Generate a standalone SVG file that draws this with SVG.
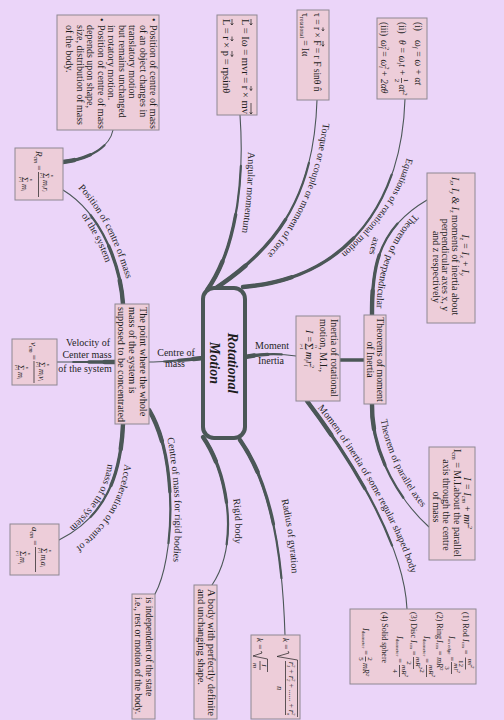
<svg xmlns="http://www.w3.org/2000/svg" width="504" height="720" viewBox="0 0 504 720">
<style>
.t{font-family:'Liberation Serif','DejaVu Serif',serif;fill:#1c1c1c}
.lb{font-family:'Liberation Serif','DejaVu Serif',serif;font-size:10px;fill:#262626}
.bx{fill:#EDCDD9;stroke:#8E8892;stroke-width:1}
.cn{fill:none;stroke:#4B5757;stroke-linecap:round}
.w1{stroke-width:1.1}
.w2{stroke-width:2.2;stroke-dasharray:72 1000}
.w3{stroke-width:3.3;stroke-dasharray:45 1000}
.w4{stroke-width:4.4;stroke-dasharray:18 1000}
.fb{stroke:#1c1c1c;stroke-width:0.7;fill:none}
</style>
<defs>
<path id="c-ang" pathLength="100" d="M290,297 C260,275 200,258 115,264"/>
<path id="c-tor" pathLength="100" d="M290,291 C250,230 200,190 100,187"/>
<path id="c-eq" pathLength="100" d="M287,261 C278,150 195,102 99,99"/>
<path id="c-mom" pathLength="100" d="M357,259 Q352,233 356,208"/>
<path id="c-perp" pathLength="100" d="M315,132 C270,132 230,128 200,77"/>
<path id="c-par" pathLength="100" d="M404,132 C452,133 500,105 527,75"/>
<path id="c-reg" pathLength="100" d="M401,197 C450,160 540,100 609,97"/>
<path id="c-com" pathLength="100" d="M358,301 C360,320 362,340 362,355"/>
<path id="c-vel" pathLength="100" d="M362,389 L362,447"/>
<path id="c-pos" pathLength="100" d="M304,381 C270,383 215,400 190,441"/>
<path id="c-rcm" pathLength="100" d="M162,441 C158,410 145,394 130,391"/>
<path id="c-acc" pathLength="100" d="M424,381 C470,383 515,395 540,445"/>
<path id="c-cmr" pathLength="100" d="M410,355 C460,325 560,330 594,349"/>
<path id="c-rig" pathLength="100" d="M437,301 C475,275 545,265 585,292"/>
<path id="c-rad" pathLength="100" d="M440,264 C480,236 540,222 635,219"/>
<path id="lp-ang" d="M150,256 Q195,255 237,263"/>
<path id="lp-tor" d="M122,181 Q205,190 258,240"/>
<path id="lp-eq" d="M157,97 Q205,108 255,164"/>
<path id="lp-perp1" d="M213,89 Q255,130 316,127"/>
<path id="lp-perp2" d="M236,130 Q250,135 268,137"/>
<path id="lp-par" d="M404,125 C440,123 480,108 522,70"/>
<path id="lp-reg" d="M407,187 C452,150 535,101 582,91"/>
<path id="lp-pos1" d="M186,428 Q220,394 285,376"/>
<path id="lp-pos2" d="M214,424 Q240,405 270,396"/>
<path id="lp-acc1" d="M462,379 C492,382 522,394 549,430"/>
<path id="lp-acc2" d="M462,396 Q500,400 532,440"/>
<path id="lp-cmr" d="M437,337 Q500,325 562,331"/>
<path id="lp-rig" d="M497,271 Q522,267 548,270"/>
<path id="lp-rad" d="M498,223 Q535,214 578,212"/>
</defs>
<rect width="504" height="720" fill="#EBD5F9"/>

<g id="connectors">
 <g transform="translate(504 0) rotate(90)">
  <g class="cn">
   <use href="#c-ang" class="w1"/><use href="#c-ang" class="w2"/><use href="#c-ang" class="w3"/><use href="#c-ang" class="w4"/>
   <use href="#c-tor" class="w1"/><use href="#c-tor" class="w2"/><use href="#c-tor" class="w3"/><use href="#c-tor" class="w4"/>
   <use href="#c-eq" class="w1"/><use href="#c-eq" class="w2"/><use href="#c-eq" class="w3"/><use href="#c-eq" class="w4"/>
   <use href="#c-mom" class="w1"/><use href="#c-mom" class="w2"/><use href="#c-mom" class="w3"/><use href="#c-mom" class="w4"/>
   <path d="M360,164 L360,140" stroke-width="3.4"/>
   <use href="#c-perp" class="w1"/><use href="#c-perp" class="w2"/><use href="#c-perp" class="w3"/><use href="#c-perp" class="w4"/>
   <use href="#c-par" class="w1"/><use href="#c-par" class="w2"/><use href="#c-par" class="w3"/><use href="#c-par" class="w4"/>
   <use href="#c-reg" class="w1"/><use href="#c-reg" class="w2"/><use href="#c-reg" class="w3"/><use href="#c-reg" class="w4"/>
   <use href="#c-com" class="w1"/><use href="#c-com" class="w2"/><use href="#c-com" class="w3"/><use href="#c-com" class="w4"/>
   <use href="#c-vel" class="w1"/><use href="#c-vel" class="w2"/><use href="#c-vel" class="w3"/><use href="#c-vel" class="w4"/>
   <use href="#c-pos" class="w1"/><use href="#c-pos" class="w2"/><use href="#c-pos" class="w3"/><use href="#c-pos" class="w4"/>
   <use href="#c-rcm" class="w1"/><use href="#c-rcm" class="w2"/><use href="#c-rcm" class="w3"/><use href="#c-rcm" class="w4"/>
   <use href="#c-acc" class="w1"/><use href="#c-acc" class="w2"/><use href="#c-acc" class="w3"/><use href="#c-acc" class="w4"/>
   <use href="#c-cmr" class="w1"/><use href="#c-cmr" class="w2"/><use href="#c-cmr" class="w3"/><use href="#c-cmr" class="w4"/>
   <use href="#c-rig" class="w1"/><use href="#c-rig" class="w2"/><use href="#c-rig" class="w3"/><use href="#c-rig" class="w4"/>
   <use href="#c-rad" class="w1"/><use href="#c-rad" class="w2"/><use href="#c-rad" class="w3"/><use href="#c-rad" class="w4"/>
  </g>
  <g class="lb">
   <text><textPath href="#lp-ang" startOffset="2">Angular momentum</textPath></text>
   <text font-size="9.8"><textPath href="#lp-tor" startOffset="1">Torque or couple or moment of force</textPath></text>
   <text font-size="9.6"><textPath href="#lp-eq" startOffset="1">Equations of rotational motion</textPath></text>
   <text><textPath href="#lp-perp1" startOffset="1">Theorem of perpendicular</textPath></text>
   <text><textPath href="#lp-perp2" startOffset="1">axes</textPath></text>
   <text font-size="9.8"><textPath href="#lp-par" startOffset="16">Theorem of parallel axes</textPath></text>
   <text><textPath href="#lp-reg" startOffset="1">Moment of inertia of some regular shaped body</textPath></text>
   <text><textPath href="#lp-pos1" startOffset="3">Position of centre of mass</textPath></text>
   <text><textPath href="#lp-pos2" startOffset="2">of the system</textPath></text>
   <text><textPath href="#lp-acc1" startOffset="2">Acceleration of centre of</textPath></text>
   <text><textPath href="#lp-acc2" startOffset="2">mass of the system</textPath></text>
   <text><textPath href="#lp-cmr" startOffset="1">Centre of mass for rigid bodies</textPath></text>
   <text><textPath href="#lp-rig" startOffset="2">Rigid body</textPath></text>
   <text><textPath href="#lp-rad" startOffset="2">Radius of gyration</textPath></text>
  </g>
 </g>
 <g class="lb" text-anchor="middle">
  <text x="272" y="349">Moment</text>
  <text x="271" y="364">Inertia</text>
  <text x="176" y="356">Centre of</text>
  <text x="175" y="367">mass</text>
  <text x="88" y="346">Velocity of</text>
  <text x="87" y="358">Center mass</text>
  <text x="85" y="372">of the system</text>
 </g>
</g>

<g id="nodes" transform="translate(504 0) rotate(90)">
 <g id="n-center">
  <rect x="288" y="259" width="150" height="42" rx="11" fill="#EBD5F9" stroke="#4B5757" stroke-width="4"/>
  <text class="t" font-size="14" font-weight="bold" font-style="italic" text-anchor="middle"><tspan x="363" y="276">Rotational</tspan><tspan x="363" y="294">Motion</tspan></text>
 </g>

 <g id="n-com-desc">
  <rect class="bx" x="15" y="345" width="115" height="102"/>
  <text class="t" font-size="10">
   <tspan x="18" y="354">•</tspan><tspan x="25" y="354">Position of centre of mass</tspan>
   <tspan x="25" y="364.5">of an object changes in</tspan>
   <tspan x="25" y="375">translatory motion</tspan>
   <tspan x="25" y="385.5">but remains unchanged</tspan>
   <tspan x="25" y="396">in rotatory motion.</tspan>
   <tspan x="18" y="406.5">•</tspan><tspan x="25" y="406.5">Position of centre of mass</tspan>
   <tspan x="25" y="417">depends upon shape,</tspan>
   <tspan x="25" y="427.5">size, distribution of mass</tspan>
   <tspan x="25" y="438">of the body.</tspan>
  </text>
 </g>

 <g id="n-rcm">
  <rect class="bx" x="148" y="441" width="52" height="48"/>
  <text class="t" font-size="9" font-style="italic" x="151" y="468">R<tspan font-size="5.5" dy="2">cm</tspan><tspan dy="-2" font-style="normal"> =</tspan></text>
  <text class="t" font-size="9" x="173" y="461">Σ</text>
  <text class="t" font-size="4" x="175.7" y="453" text-anchor="middle">n</text>
  <text class="t" font-size="3.5" x="175.7" y="464" text-anchor="middle">i=1</text>
  <text class="t" font-size="8" font-style="italic" x="180" y="461">m<tspan font-size="5" dy="1.5">i</tspan><tspan dy="-1.5">r</tspan><tspan font-size="5" dy="1.5">i</tspan></text>
  <line class="fb" x1="172" y1="465.5" x2="197" y2="465.5"/>
  <text class="t" font-size="9" x="177" y="482">Σ</text>
  <text class="t" font-size="4" x="179.7" y="474" text-anchor="middle">n</text>
  <text class="t" font-size="3.5" x="179.7" y="485.5" text-anchor="middle">i=1</text>
  <text class="t" font-size="8" font-style="italic" x="184" y="482">m<tspan font-size="5" dy="1.5">i</tspan></text>
 </g>

 <g id="n-vcm">
  <rect class="bx" x="339" y="447" width="46" height="45"/>
  <text class="t" font-size="9" font-style="italic" x="342" y="473.5">v<tspan font-size="5.5" dy="2">cm</tspan><tspan dy="-2" font-style="normal"> =</tspan></text>
  <text class="t" font-size="9" x="362" y="465">Σ</text>
  <text class="t" font-size="4" x="364.7" y="457" text-anchor="middle">n</text>
  <text class="t" font-size="3.5" x="364.7" y="468.5" text-anchor="middle">i=1</text>
  <text class="t" font-size="8" font-style="italic" x="369" y="465">m<tspan font-size="5" dy="1.5">i</tspan><tspan dy="-1.5">v</tspan><tspan font-size="5" dy="1.5">i</tspan></text>
  <line class="fb" x1="361" y1="470" x2="383" y2="470"/>
  <text class="t" font-size="9" x="365" y="486">Σ</text>
  <text class="t" font-size="4" x="367.7" y="478" text-anchor="middle">n</text>
  <text class="t" font-size="3.5" x="367.7" y="489.5" text-anchor="middle">i=1</text>
  <text class="t" font-size="8" font-style="italic" x="372" y="486">m<tspan font-size="5" dy="1.5">i</tspan></text>
 </g>

 <g id="n-acm">
  <rect class="bx" x="524" y="445" width="51" height="49"/>
  <text class="t" font-size="9" font-style="italic" x="527" y="472">a<tspan font-size="5.5" dy="2">cm</tspan><tspan dy="-2" font-style="normal"> =</tspan></text>
  <text class="t" font-size="9" x="548" y="463">Σ</text>
  <text class="t" font-size="4" x="550.7" y="455" text-anchor="middle">n</text>
  <text class="t" font-size="3.5" x="550.7" y="466.5" text-anchor="middle">i=1</text>
  <text class="t" font-size="8" font-style="italic" x="554.5" y="463">m<tspan font-size="5" dy="1.5">i</tspan><tspan dy="-1.5">a</tspan><tspan font-size="5" dy="1.5">i</tspan></text>
  <line class="fb" x1="547" y1="468.5" x2="572" y2="468.5"/>
  <text class="t" font-size="9" x="551" y="484.5">Σ</text>
  <text class="t" font-size="4" x="553.7" y="476.5" text-anchor="middle">n</text>
  <text class="t" font-size="3.5" x="553.7" y="488" text-anchor="middle">i=1</text>
  <text class="t" font-size="8" font-style="italic" x="557" y="484.5">m<tspan font-size="5" dy="1.5">i</tspan></text>
 </g>

 <g id="n-point">
  <rect class="bx" x="304" y="355" width="120" height="34"/>
  <text class="t" font-size="10.2">
   <tspan x="307" y="364.5">The point where the whole</tspan>
   <tspan x="307" y="375.5">mass of the system is</tspan>
   <tspan x="307" y="386.5">supposed to be concentrated</tspan>
  </text>
 </g>

 <g id="n-indep">
  <rect class="bx" x="594" y="349" width="125" height="23"/>
  <text class="t" font-size="9.5">
   <tspan x="597" y="358.5">is independent of the state</tspan>
   <tspan x="597" y="369.5">i.e., rest or motion of the body.</tspan>
  </text>
 </g>

 <g id="n-angular">
  <rect class="bx" x="15" y="247" width="100" height="40"/>
  <text class="t" font-size="10.5" x="19" y="262">L = Iω = mvr = r × mv</text>
  <text class="t" font-size="10.5" x="19" y="281">L = r × p = rpsinθ</text>
  <path class="fb" d="M19,253h6m-1.8,-1.3l1.8,1.3l-1.8,1.3 M86,253h4.5m-1.8,-1.3l1.8,1.3l-1.8,1.3 M103,253h11m-1.8,-1.3l1.8,1.3l-1.8,1.3 M19,272h6m-1.8,-1.3l1.8,1.3l-1.8,1.3 M36.5,272h4.5m-1.8,-1.3l1.8,1.3l-1.8,1.3 M51,272h5.5m-1.8,-1.3l1.8,1.3l-1.8,1.3"/>
 </g>

 <g id="n-torque">
  <rect class="bx" x="10" y="175" width="90" height="32"/>
  <text class="t" font-size="9.5" x="13" y="190">τ = r × F = r F sinθ n&#770;</text>
  <text class="t" font-size="9.5" x="13" y="202">τ<tspan font-size="5.5" dy="2">rotational</tspan><tspan dy="-2"> = Iα</tspan></text>
  <path class="fb" d="M27.4,181h3.5m-1.6,-1.2l1.6,1.2l-1.6,1.2 M41,181h5.2m-1.6,-1.2l1.6,1.2l-1.6,1.2"/>
 </g>

 <g id="n-equations">
  <rect class="bx" x="18" y="77" width="81" height="50"/>
  <text class="t" font-size="9.5">
   <tspan x="22" y="89">(i)</tspan>
   <tspan x="40" y="89" font-style="italic">ω</tspan><tspan font-size="6" dy="2" font-style="italic">f</tspan><tspan dy="-2" font-style="italic"> = ω + αt</tspan>
  </text>
  <text class="t" font-size="9.5">
   <tspan x="22" y="105">(ii)</tspan>
   <tspan x="40" y="105" font-style="italic">θ = ω</tspan><tspan font-size="6" dy="2" font-style="italic">i</tspan><tspan dy="-2" font-style="italic">t + </tspan>
  </text>
  <text class="t" font-size="7" text-anchor="middle" x="80.5" y="100.5">1</text>
  <line class="fb" x1="78" y1="102.5" x2="83" y2="102.5"/>
  <text class="t" font-size="7" text-anchor="middle" x="80.5" y="109.5">2</text>
  <text class="t" font-size="9.5" font-style="italic" x="84.5" y="105">αt<tspan font-size="6" dy="-4">2</tspan></text>
  <text class="t" font-size="9.5">
   <tspan x="22" y="123">(iii)</tspan>
   <tspan x="40" y="123" font-style="italic">ω</tspan><tspan font-size="6" dy="-4" font-style="italic">2</tspan><tspan font-size="6" dx="-3" dy="6" font-style="italic">f</tspan><tspan dy="-2" font-style="italic"> = ω</tspan><tspan font-size="6" dy="-4" font-style="italic">2</tspan><tspan font-size="6" dx="-3" dy="6" font-style="italic">i</tspan><tspan dy="-2" font-style="italic"> + 2αθ</tspan>
  </text>
 </g>

 <g id="n-perp">
  <rect class="bx" x="173" y="29" width="150" height="48"/>
  <text class="t" font-size="10" font-style="italic" text-anchor="middle" x="255" y="42">I<tspan font-size="6" dy="2">z</tspan><tspan dy="-2"> = I</tspan><tspan font-size="6" dy="2">x</tspan><tspan dy="-2"> + I</tspan><tspan font-size="6" dy="2">y</tspan></text>
  <text class="t" font-size="10" x="177" y="52"><tspan font-style="italic">I</tspan><tspan font-size="6" dy="2" font-style="italic">x</tspan><tspan dy="-2" font-style="italic">, I</tspan><tspan font-size="6" dy="2" font-style="italic">y</tspan><tspan dy="-2" font-style="italic"> &amp; I</tspan><tspan font-size="6" dy="2" font-style="italic">z</tspan><tspan dy="-2"> moments of inertia about</tspan></text>
  <text class="t" font-size="10" text-anchor="middle" x="265" y="62">perpendicular axes  x, y</text>
  <text class="t" font-size="10" text-anchor="middle" x="267" y="71.5">and  z respectively</text>
 </g>

 <g id="n-theorems">
  <rect class="bx" x="315" y="118" width="89" height="22"/>
  <text class="t" font-size="9.8" text-anchor="middle"><tspan x="359.5" y="127.5">Theorems of moment</tspan><tspan x="359.5" y="137.5">of Inertia</tspan></text>
 </g>

 <g id="n-inertia">
  <rect class="bx" x="316" y="164" width="85" height="44"/>
  <text class="t" font-size="10"><tspan x="319" y="173">Inertia of rotational</tspan><tspan x="319" y="184">motion, M.I.,</tspan></text>
  <text class="t" font-size="10" font-style="italic" x="330" y="198">I =</text>
  <text class="t" font-size="12" x="343" y="199">Σ</text>
  <text class="t" font-size="5" x="346.6" y="189" text-anchor="middle">n</text>
  <text class="t" font-size="4.5" x="346.6" y="204" text-anchor="middle">i=1</text>
  <text class="t" font-size="10" font-style="italic" x="352" y="198">m<tspan font-size="6" dy="2">i</tspan><tspan dy="-2">r</tspan><tspan font-size="6" dy="-4">2</tspan><tspan font-size="6" dx="-3" dy="6">i</tspan></text>
 </g>

 <g id="n-parallel">
  <rect class="bx" x="447" y="29" width="113" height="46"/>
  <text class="t" font-size="10" font-style="italic" text-anchor="middle" x="503" y="40">I = I<tspan font-size="6" dy="2">cm</tspan><tspan dy="-2"> + mr</tspan><tspan font-size="6" dy="-4">2</tspan></text>
  <text class="t" font-size="10" text-anchor="middle" x="503" y="50.5">I<tspan font-size="6" dy="2">cm</tspan><tspan dy="-2"> = M.I.about the parallel</tspan></text>
  <text class="t" font-size="10" text-anchor="middle" x="505" y="61">axis through the centre</text>
  <text class="t" font-size="10" text-anchor="middle" x="507" y="71">of mass</text>
 </g>

 <g id="n-regular">
  <rect class="bx" x="609" y="28" width="75" height="126"/>
  <text class="t" font-size="8"><tspan x="612" y="41">(1) Rod</tspan><tspan x="639" y="41" font-style="italic">I</tspan><tspan font-size="5" dy="1.5">cm</tspan><tspan dy="-1.5"> =</tspan></text>
  <text class="t" font-size="7" font-style="italic" text-anchor="middle" x="663.5" y="36.5">ml<tspan font-size="5" dy="-3">2</tspan></text>
  <line class="fb" x1="657.5" y1="38.5" x2="669.5" y2="38.5"/>
  <text class="t" font-size="7" text-anchor="middle" x="663.5" y="45">12</text>

  <text class="t" font-size="8"><tspan x="636" y="55" font-style="italic">I</tspan><tspan font-size="5" dy="1.5">on edge</tspan><tspan dy="-1.5"> =</tspan></text>
  <text class="t" font-size="7" font-style="italic" text-anchor="middle" x="668" y="50.5">ml<tspan font-size="5" dy="-3">2</tspan></text>
  <line class="fb" x1="662" y1="52.5" x2="674" y2="52.5"/>
  <text class="t" font-size="7" text-anchor="middle" x="668" y="59">3</text>

  <text class="t" font-size="8"><tspan x="612" y="67">(2) Ring</tspan><tspan x="640" y="67" font-style="italic">I</tspan><tspan font-size="5" dy="1.5">cm</tspan><tspan dy="-1.5"> = </tspan><tspan font-style="italic">mR</tspan><tspan font-size="5" dy="-3">2</tspan></text>

  <text class="t" font-size="8"><tspan x="636" y="80" font-style="italic">I</tspan><tspan font-size="5" dy="1.5">diameter</tspan><tspan dy="-1.5"> =</tspan></text>
  <text class="t" font-size="7" font-style="italic" text-anchor="middle" x="671" y="75.5">mR<tspan font-size="5" dy="-3">2</tspan></text>
  <line class="fb" x1="665" y1="77.5" x2="677" y2="77.5"/>
  <text class="t" font-size="7" text-anchor="middle" x="671" y="84">2</text>

  <text class="t" font-size="8"><tspan x="612" y="93">(3) Disc</tspan><tspan x="640" y="93" font-style="italic">I</tspan><tspan font-size="5" dy="1.5">cm</tspan><tspan dy="-1.5"> =</tspan></text>
  <text class="t" font-size="7" font-style="italic" text-anchor="middle" x="663" y="88.5">mR<tspan font-size="5" dy="-3">2</tspan></text>
  <line class="fb" x1="657" y1="90.5" x2="669" y2="90.5"/>
  <text class="t" font-size="7" text-anchor="middle" x="663" y="97">2</text>

  <text class="t" font-size="8"><tspan x="636" y="107" font-style="italic">I</tspan><tspan font-size="5" dy="1.5">diameter</tspan><tspan dy="-1.5"> =</tspan></text>
  <text class="t" font-size="7" font-style="italic" text-anchor="middle" x="671" y="102.5">mR<tspan font-size="5" dy="-3">2</tspan></text>
  <line class="fb" x1="665" y1="104.5" x2="677" y2="104.5"/>
  <text class="t" font-size="7" text-anchor="middle" x="671" y="111">4</text>

  <text class="t" font-size="8" x="612" y="122">(4) Solid sphere</text>

  <text class="t" font-size="8"><tspan x="628" y="141" font-style="italic">I</tspan><tspan font-size="5" dy="1.5">diameter</tspan><tspan dy="-1.5"> =</tspan></text>
  <text class="t" font-size="7" text-anchor="middle" x="659" y="136.5">2</text>
  <line class="fb" x1="656.5" y1="138.5" x2="661.5" y2="138.5"/>
  <text class="t" font-size="7" text-anchor="middle" x="659" y="145">5</text>
  <text class="t" font-size="8" font-style="italic" x="663" y="141">mR<tspan font-size="5" dy="-3">2</tspan></text>
 </g>

 <g id="n-rigid">
  <rect class="bx" x="585" y="287" width="134" height="23"/>
  <text class="t" font-size="10.5"><tspan x="589" y="296" textLength="127" lengthAdjust="spacing">A body with perfectly definite</tspan><tspan x="589" y="306.5">and unchanging shape.</tspan></text>
 </g>

 <g id="n-gyration">
  <rect class="bx" x="635" y="204" width="84" height="49"/>
  <text class="t" font-size="9" font-style="italic" x="638" y="221">k <tspan font-style="normal">=</tspan></text>
  <path class="fb" d="M651,216 L653,215 L656.5,227 L660,206.5 L717,206.5"/>
  <text class="t" font-size="7.5" font-style="italic" x="662" y="215.5">r<tspan font-size="4.5" dy="-3">2</tspan><tspan font-size="4.5" dx="-2.2" dy="4.5">1</tspan><tspan dy="-1.5"> + r</tspan><tspan font-size="4.5" dy="-3">2</tspan><tspan font-size="4.5" dx="-2.2" dy="4.5">2</tspan><tspan dy="-1.5"> + ...... + r</tspan><tspan font-size="4.5" dy="-3">2</tspan><tspan font-size="4.5" dx="-2.2" dy="4.5">n</tspan></text>
  <line class="fb" x1="661" y1="218.5" x2="715" y2="218.5"/>
  <text class="t" font-size="7.5" font-style="italic" text-anchor="middle" x="688" y="227">n</text>
  <text class="t" font-size="9" font-style="italic" x="638" y="247.5">k <tspan font-style="normal">=</tspan></text>
  <path class="fb" d="M651,243 L653,242 L656,251 L659,236.5 L672,236.5"/>
  <text class="t" font-size="7" font-style="italic" text-anchor="middle" x="665.5" y="242">I</text>
  <line class="fb" x1="661" y1="244" x2="670" y2="244"/>
  <text class="t" font-size="7" font-style="italic" text-anchor="middle" x="665.5" y="251">m</text>
 </g>
</g>
</svg>
